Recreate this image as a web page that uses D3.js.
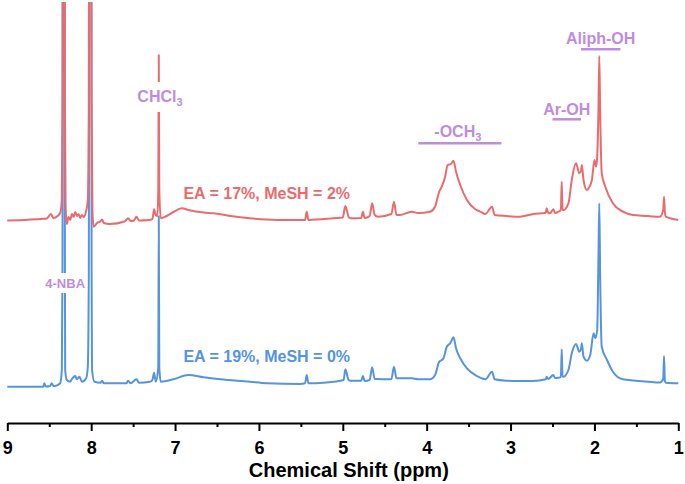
<!DOCTYPE html>
<html lang="en">
<head>
<meta charset="UTF-8">
<title>1H NMR spectra</title>
<script src="https://d3js.org/d3.v7.min.js"></script>
<style>
  body { margin: 0; background: #fff; }
  text { font-family: "Liberation Sans", Arial, sans-serif; font-weight: bold; }
</style>
</head>
<body>
<script>
// x ticks (ppm)
var majorTicks = [9, 8, 7, 6, 5, 4, 3, 2, 1];
var minorTicks = [8.5, 7.5, 6.5, 5.5, 4.5, 3.5, 2.5, 1.5];

// blue: EA = 19%, MeSH = 0%  [ppm, intensity a.u.]
var blueSpec = [
  [9.00, 0.3], [8.70, 0.3], [8.57, 0.3], [8.56, 3.7], [8.54, 0.5], [8.49, 1], [8.47, 3.7], [8.45, 1],
  [8.43, 1], [8.37, 3.7], [8.35, 17], [8.342, 120], [8.333, 900], [8.322, 900], [8.313, 120], [8.31, 17],
  [8.29, 7], [8.25, 5.3], [8.23, 8], [8.19, 11], [8.17, 7.7], [8.14, 10.3], [8.11, 5.3], [8.06, 8.7],
  [8.04, 20.3], [8.028, 120], [8.02, 900], [8.005, 900], [7.995, 120], [7.99, 17], [7.96, 5.3], [7.89, 4.3],
  [7.87, 6.3], [7.85, 3.7], [7.58, 3.7], [7.56, 6.3], [7.53, 3.7], [7.46, 7.7], [7.43, 4.3], [7.30, 5.3],
  [7.27, 7], [7.25, 14.3], [7.23, 5.3], [7.20, 20], [7.194, 171], [7.188, 20], [7.17, 5.3], [7.02, 7.7],
  [6.84, 12], [6.66, 9.7], [6.46, 7.7], [6.11, 5.3], [5.91, 3.7], [5.51, 3], [5.45, 3.7], [5.43, 12],
  [5.41, 3.7], [5.23, 4.3], [5.11, 5.3], [4.99, 7], [4.97, 17.7], [4.93, 7], [4.91, 6.3], [4.78, 6.3],
  [4.76, 11], [4.74, 6], [4.68, 7], [4.65, 19.7], [4.62, 8], [4.58, 8], [4.48, 7.7], [4.42, 8],
  [4.39, 20.3], [4.36, 8.7], [4.32, 8.7], [4.18, 8.7], [4.10, 7.7], [3.96, 7.7], [3.90, 12], [3.85, 25.3],
  [3.82, 27], [3.80, 28.7], [3.76, 40.3], [3.72, 43.7], [3.68, 49.7], [3.65, 38.7], [3.60, 28.7], [3.52, 18.7],
  [3.40, 11], [3.30, 7.7], [3.22, 15.3], [3.19, 7.7], [3.05, 6.3], [2.89, 6], [2.73, 6], [2.58, 7.7],
  [2.57, 10.3], [2.55, 8], [2.49, 12], [2.47, 9], [2.43, 9.3], [2.40, 10], [2.39, 37.7], [2.38, 10.3],
  [2.37, 10.3], [2.31, 17], [2.27, 33.7], [2.22, 43], [2.18, 35.3], [2.16, 38], [2.15, 43.7], [2.13, 30.3],
  [2.09, 26.3], [2.05, 32], [2.01, 53.7], [1.99, 48.7], [1.967, 57], [1.952, 130], [1.942, 183.7], [1.932, 113.7],
  [1.913, 40.3], [1.85, 27], [1.78, 15.3], [1.66, 7.7], [1.36, 5.3], [1.22, 4.5], [1.18, 8], [1.17, 31],
  [1.16, 6], [1.15, 4.3], [1.00, 3.7]
];

// red: EA = 17%, MeSH = 2%
var redSpec = [
  [9.00, -0.5], [8.75, 0.3], [8.57, 1.2], [8.53, 1.5], [8.48, 6], [8.45, 2], [8.40, 4], [8.37, 7],
  [8.35, 20], [8.342, 120], [8.337, 800], [8.318, 800], [8.313, 120], [8.305, 15], [8.29, -4], [8.27, 3],
  [8.25, 0], [8.23, 6], [8.21, 3], [8.19, 8], [8.17, 4], [8.15, 6], [8.13, 2], [8.11, 5],
  [8.09, 3], [8.06, 9], [8.04, 20], [8.028, 120], [8.022, 800], [8.003, 800], [7.995, 120], [7.985, 10],
  [7.97, -6.7], [7.93, -3], [7.89, -1.5], [7.87, 0.5], [7.85, -3], [7.78, -4], [7.60, -1.5], [7.56, 1.7],
  [7.53, -1], [7.49, -0.5], [7.46, 3.3], [7.43, -0.5], [7.30, 0], [7.27, 1], [7.25, 10.7], [7.23, 5],
  [7.21, 4], [7.20, 30], [7.194, 165], [7.188, 30], [7.17, 1.7], [7.10, 4], [7.02, 8], [6.92, 11.7],
  [6.84, 10], [6.66, 7.5], [6.54, 6.7], [6.34, 4], [6.11, 1.7], [5.91, 0.5], [5.65, 0], [5.45, 0],
  [5.43, 8.3], [5.41, 0], [5.11, 1.7], [5.00, 2.5], [4.97, 14], [4.93, 3], [4.91, 1.7], [4.78, 2],
  [4.76, 8.3], [4.74, 2], [4.68, 4], [4.65, 16.7], [4.62, 5], [4.58, 3.3], [4.42, 6], [4.39, 18.3],
  [4.36, 5], [4.32, 5], [4.18, 8.3], [4.10, 7], [3.96, 8.3], [3.90, 13.3], [3.85, 28.3], [3.82, 33.3],
  [3.78, 43.3], [3.75, 55], [3.71, 56], [3.68, 59.3], [3.65, 48.3], [3.60, 35], [3.52, 20], [3.42, 10.7],
  [3.36, 8.3], [3.30, 6], [3.22, 13.3], [3.19, 5], [3.05, 4], [2.89, 3.3], [2.73, 6], [2.58, 7.3],
  [2.57, 11.7], [2.55, 7], [2.53, 6.7], [2.49, 10.7], [2.47, 7], [2.43, 8.3], [2.40, 10], [2.39, 38.3],
  [2.38, 10], [2.37, 10], [2.31, 16.7], [2.27, 40], [2.22, 56.7], [2.18, 46.7], [2.16, 49], [2.15, 55],
  [2.13, 40], [2.09, 30], [2.07, 31.7], [2.03, 40], [2.00, 60], [1.98, 53.3], [1.967, 63.3], [1.952, 110],
  [1.942, 164], [1.932, 110], [1.913, 46.7], [1.87, 33.3], [1.78, 16.7], [1.66, 8.3], [1.54, 5], [1.36, 4],
  [1.30, 3.5], [1.22, 3.3], [1.18, 10], [1.17, 23.3], [1.16, 8], [1.15, 3.3], [1.00, 0]
];

var redOffset = 167;

// group bars: [label, from ppm, to ppm]
var groupLabels = ["-OCH", "Ar-OH", "Aliph-OH"];
var groupFrom = [4.10, 2.50, 2.16];
var groupTo = [3.11, 2.16, 1.69];

var W = 685, H = 484;
var red = "#eb6b6d", blue = "#5593e3", purple = "#c08ce0";

var svg = d3.select("body").append("svg")
    .attr("width", W).attr("height", H)
    .style("background", "#fff");

var x = d3.scaleLinear().domain([9, 1]).range([7.3, 678.3]);
var y = d3.scaleLinear().domain([0, 385]).range([387, 2]);

svg.append("clipPath").attr("id", "plotclip")
  .append("rect").attr("x", 0).attr("y", 2).attr("width", W).attr("height", 421);

function lineFor(off) {
    return d3.line().curve(d3.curveMonotoneX)
        .x(function(d) { return x(d[0]); }).y(function(d) { return y(d[1] + off); });
}

var plot = svg.append("g").attr("clip-path", "url(#plotclip)");
plot.append("path").attr("d", lineFor(0)(blueSpec))
    .attr("fill", "none").attr("stroke", blue).attr("stroke-width", 2).attr("stroke-linejoin", "round");
plot.append("path").attr("d", lineFor(redOffset)(redSpec))
    .attr("fill", "none").attr("stroke", red).attr("stroke-width", 2).attr("stroke-linejoin", "round");

// axis
var axisY = 423;
var ax = svg.append("g").attr("transform", "translate(0," + axisY + ")")
    .call(d3.axisBottom(x).tickValues(majorTicks).tickSize(8).tickSizeOuter(0).tickPadding(10).tickFormat(d3.format("d")));
ax.select(".domain").attr("stroke", "#000").attr("stroke-width", 2);
ax.selectAll(".tick line").attr("stroke", "#000").attr("stroke-width", 2);
ax.selectAll(".tick text").attr("fill", "#000").style("font-size", "18px")
    .style("font-family", "'Liberation Sans', Arial, sans-serif").style("font-weight", "bold");
var axm = svg.append("g").attr("transform", "translate(0," + axisY + ")")
    .call(d3.axisBottom(x).tickValues(minorTicks).tickSize(4).tickSizeOuter(0).tickFormat(""));
axm.select(".domain").remove();
axm.selectAll(".tick line").attr("stroke", "#000").attr("stroke-width", 2);

svg.append("text").attr("x", (x(9) + x(1)) / 2 + 6).attr("y", 477)
    .attr("text-anchor", "middle").style("font-size", "20px").attr("fill", "#000")
    .text("Chemical Shift (ppm)");

// labels with white backing
function maskedLabel(cx, cy, w, h) {
    svg.append("rect").attr("x", cx - w / 2).attr("y", cy - h / 2).attr("width", w).attr("height", h).attr("fill", "#fff");
}
maskedLabel(x(7.18), 97, 50, 30);
var chcl = svg.append("text").attr("x", x(7.18)).attr("y", 102).attr("text-anchor", "middle")
    .attr("fill", purple).style("font-size", "16px");
chcl.append("tspan").text("CHCl");
chcl.append("tspan").attr("dy", 4).style("font-size", "11px").text("3");

maskedLabel(x(8.31), 283, 44, 20);
svg.append("text").attr("x", x(8.31)).attr("y", 288).attr("text-anchor", "middle")
    .attr("fill", purple).style("font-size", "13px").text("4-NBA");

svg.append("text").attr("x", x(6.90)).attr("y", 199).attr("fill", red)
    .style("font-size", "16px").text("EA = 17%, MeSH = 2%");
svg.append("text").attr("x", x(6.90)).attr("y", 362).attr("fill", blue)
    .style("font-size", "16px").text("EA = 19%, MeSH = 0%");

// group bars + labels
var barY = [143.3, 119.3, 49.3];
var textY = [137, 115, 44];
groupLabels.forEach(function(lab, i) {
    svg.append("line").attr("x1", x(groupFrom[i])).attr("x2", x(groupTo[i]))
        .attr("y1", barY[i]).attr("y2", barY[i]).attr("stroke", purple).attr("stroke-width", 2.5);
    var cx = (x(groupFrom[i]) + x(groupTo[i])) / 2;
    var t = svg.append("text").attr("x", cx - (i === 0 ? 2 : 0)).attr("y", textY[i]).attr("text-anchor", "middle")
        .attr("fill", purple).style("font-size", "16px");
    t.append("tspan").text(lab);
    if (i === 0) t.append("tspan").attr("dy", 4).style("font-size", "11px").text("3");
});
</script>
</body>
</html>
